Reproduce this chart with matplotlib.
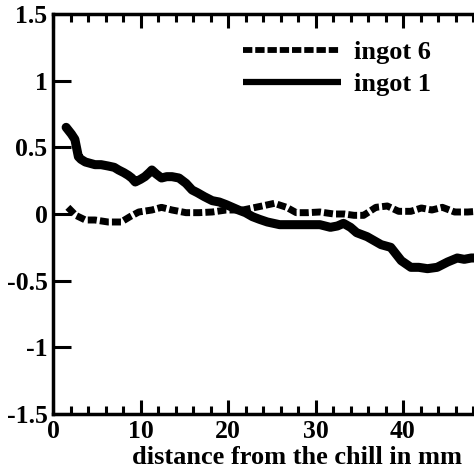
import matplotlib
matplotlib.use("Agg")
import matplotlib.pyplot as plt
from matplotlib.lines import Line2D
from matplotlib.ticker import MultipleLocator

plt.rcParams['font.family'] = ['Liberation Serif', 'DejaVu Serif']
plt.rcParams['font.weight'] = 'bold'

# ingot 1 (solid)
x1 = [1.5, 2.1, 2.5, 2.9, 3.2, 3.7, 4.8, 5.5, 6.3, 7.0, 7.5, 8.1, 8.6, 9.0, 9.4,
      10.0, 10.5, 11.0, 11.3, 11.8, 12.4, 13.0, 13.6, 14.4, 15.2, 15.9, 16.5,
      17.3, 18.2, 19.0, 19.8, 20.5, 21.2, 22.0, 22.8, 23.6, 24.5, 25.9, 27.0,
      28.2, 29.3, 30.5, 31.7, 32.5, 33.2, 34.0, 34.7, 35.9, 36.7, 37.5, 38.6,
      39.2, 39.8, 40.9, 41.8, 42.8, 43.9, 44.5, 45.1, 46.2, 47.0, 47.8, 48.5]
y1 = [0.65, 0.60, 0.56, 0.43, 0.41, 0.39, 0.37, 0.37, 0.36, 0.35, 0.33, 0.31,
      0.29, 0.27, 0.24, 0.26, 0.28, 0.31, 0.33, 0.30, 0.27, 0.28, 0.28, 0.27,
      0.23, 0.18, 0.16, 0.13, 0.10, 0.09, 0.07, 0.05, 0.03, 0.01, -0.02, -0.04,
      -0.06, -0.08, -0.08, -0.08, -0.08, -0.08, -0.10, -0.09, -0.07, -0.10,
      -0.14, -0.17, -0.20, -0.23, -0.25, -0.30, -0.35, -0.40, -0.40, -0.41,
      -0.40, -0.38, -0.36, -0.33, -0.34, -0.33, -0.33]

# ingot 6 (dashed)
x6 = [1.7, 2.6, 3.7, 4.8, 6.3, 7.8, 8.8, 9.8, 11.3, 12.4, 13.6, 15.2, 16.7,
      18.2, 19.8, 21.7, 23.9, 25.3, 26.7, 27.8, 29.1, 30.5, 32.1, 33.3, 34.4,
      35.5, 36.9, 38.2, 39.5, 40.9, 42.1, 43.3, 44.5, 45.9, 47.4, 48.5]
y6 = [0.05, -0.01, -0.045, -0.045, -0.06, -0.06, -0.02, 0.015, 0.03, 0.05,
      0.03, 0.01, 0.01, 0.015, 0.03, 0.03, 0.06, 0.08, 0.05, 0.01, 0.01, 0.015,
      0.0, 0.0, -0.01, -0.01, 0.05, 0.06, 0.02, 0.02, 0.045, 0.03, 0.05, 0.015,
      0.015, 0.02]

fig = plt.figure(figsize=(4.74, 4.74), dpi=100)
W = 474.0
ax = fig.add_axes([53 / W, 60 / W, 437.5 / W, 400 / W])

ax.plot(x6, y6, color='black', lw=5, linestyle=(0, (1.3, 0.45)),
        dash_capstyle='butt', solid_joinstyle='round')
ax.plot(x1, y1, color='black', lw=6.5, solid_capstyle='round',
        solid_joinstyle='round')

ax.set_xlim(0, 50)
ax.set_ylim(-1.5, 1.5)
ax.xaxis.set_major_locator(MultipleLocator(10))
ax.xaxis.set_minor_locator(MultipleLocator(2))
ax.set_xticks([0, 10, 20, 30, 40])
ax.set_yticks([-1.5, -1, -0.5, 0, 0.5, 1, 1.5])
ax.set_yticklabels(['-1.5', '-1', '-0.5', '0', '0.5', '1', '1.5'])

for s in ax.spines.values():
    s.set_linewidth(2.5)
ax.tick_params(axis='x', which='major', direction='in', length=10, width=2.2,
               top=True, labelsize=18.5, pad=4)
ax.tick_params(axis='x', which='minor', direction='in', length=6, width=2.2,
               top=True)
ax.tick_params(axis='y', which='major', direction='in', length=13, width=2.2,
               right=False, labelsize=18.5, pad=4)

ax.set_xlabel('distance from the chill in mm', fontsize=19, fontweight='bold')
ax.xaxis.set_label_coords(0.558, -0.08)

handles = [
    Line2D([], [], color='black', lw=4.2, linestyle=(0, (1.6, 0.5)),
           dash_capstyle='butt'),
    Line2D([], [], color='black', lw=4.5, solid_capstyle='butt'),
]
ax.legend(handles, ['ingot 6', 'ingot 1'], loc='upper left',
          bbox_to_anchor=(243 / W, 1 - 41 / W),
          bbox_transform=fig.transFigure, frameon=False, fontsize=19,
          handlelength=3.7, handletextpad=0.5, labelspacing=0.3,
          borderpad=0, borderaxespad=0)

fig.savefig('out.png', dpi=100)
